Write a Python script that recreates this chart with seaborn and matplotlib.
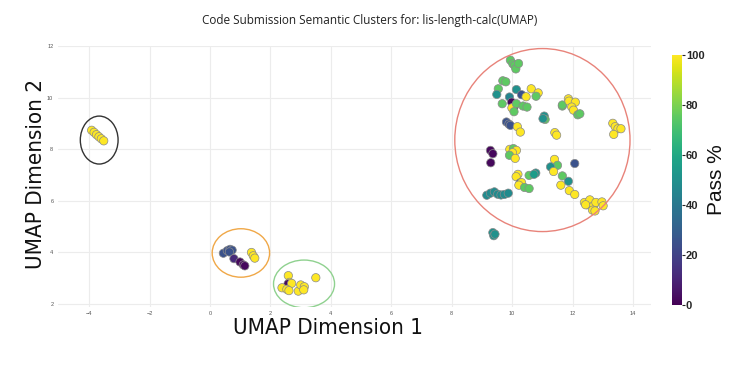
import numpy as np
import pandas as pd
import matplotlib
matplotlib.use("Agg")
import matplotlib.pyplot as plt
import seaborn as sns
from matplotlib.patches import Ellipse

# ---------------------------------------------
# Data (UMAP coords + pass %)
# ---------------------------------------------
umap_x = [
    # far-left cluster
    -3.92, -3.84, -3.76, -3.68, -3.60, -3.52,
    # orange cluster
    0.44, 0.57, 0.66, 0.73, 0.64, 0.79, 0.99, 1.10, 1.15, 1.37, 1.43, 1.48,
    # green cluster
    2.59, 2.63, 2.58, 2.70, 2.38, 2.54, 2.61, 2.92, 3.00, 3.12, 3.10, 3.50,
    # big cluster - top
    9.94, 10.02, 10.08, 10.12, 10.21, 9.69, 9.79, 9.54, 9.49, 9.67, 9.91, 10.14,
    10.31, 9.98, 10.06, 9.99, 10.14, 10.06, 10.36, 10.49, 10.46, 10.63, 10.86, 10.79,
    11.06, 11.09, 11.02, 9.81, 9.89, 9.94, 10.17, 10.27, 11.41, 11.47, 11.66, 11.66,
    11.86, 11.88, 12.09, 11.97, 12.03, 12.17, 12.24, 13.33, 13.41, 13.50, 13.60, 13.36,
    # big cluster - middle
    9.28, 9.36, 9.29, 9.92, 10.04, 10.14, 10.01, 9.91, 10.10, 11.40, 11.50, 11.27,
    11.37, 12.07, 11.66, 11.86, 11.61, 11.89, 12.07, 10.19, 10.13, 10.56, 10.78, 10.72,
    10.26, 10.31, 10.22, 10.41, 10.56,
    # teal line
    9.16, 9.28, 9.41, 9.52, 9.63, 9.74, 9.87,
    # bottom-right yellow group
    12.39, 12.48, 12.57, 12.69, 12.77, 12.66, 12.74, 12.97, 13.01, 12.43,
    # teal group below
    9.36, 9.39, 9.43,
]
umap_y = [
    8.74, 8.66, 8.57, 8.49, 8.41, 8.33,
    3.97, 4.07, 4.12, 4.09, 4.02, 3.76, 3.63, 3.52, 3.48, 4.00, 3.87, 3.78,
    3.10, 2.84, 2.78, 2.80, 2.63, 2.57, 2.52, 2.50, 2.74, 2.67, 2.55, 3.02,
    11.46, 11.32, 11.26, 11.12, 11.33, 10.66, 10.62, 10.35, 10.13, 9.77, 10.03, 10.32,
    10.12, 9.83, 9.64, 9.61, 9.77, 9.46, 9.68, 9.64, 10.04, 10.35, 10.19, 10.06,
    9.29, 9.16, 9.19, 9.06, 8.98, 8.93, 8.88, 8.67, 8.65, 8.55, 9.68, 9.72,
    9.96, 9.87, 9.83, 9.64, 9.52, 9.34, 9.38, 9.01, 8.88, 8.80, 8.80, 8.58,
    7.96, 7.83, 7.48, 8.00, 8.03, 7.96, 7.87, 7.77, 7.65, 7.61, 7.38, 7.32,
    7.14, 7.45, 6.97, 6.76, 6.61, 6.40, 6.25, 7.03, 6.94, 6.99, 7.08, 7.03,
    6.70, 6.71, 6.61, 6.52, 6.48,
    6.22, 6.30, 6.35, 6.26, 6.23, 6.25, 6.30,
    5.94, 5.85, 6.04, 5.81, 5.94, 5.64, 5.61, 5.96, 5.81, 5.85,
    4.77, 4.65, 4.71,
]
pass_pct = [
    100, 100, 100, 100, 100, 100,
    25, 25, 25, 25, 25, 12, 2, 2, 2, 100, 100, 100,
    100, 100, 3, 100, 100, 100, 100, 100, 100, 100, 100, 100,
    75, 75, 75, 75, 75, 75, 75, 75, 50, 75, 45, 50,
    25, 2, 2, 100, 75, 75, 75, 75, 100, 100, 100, 75,
    50, 75, 50, 25, 25, 25, 100, 100, 100, 100, 75, 75,
    100, 100, 100, 100, 100, 75, 75, 100, 100, 100, 100, 100,
    2, 2, 2, 100, 75, 100, 100, 75, 100, 100, 75, 50,
    100, 25, 75, 50, 100, 100, 100, 100, 100, 75, 50, 55,
    25, 100, 100, 75, 75,
    48, 48, 48, 48, 48, 48, 48,
    100, 100, 100, 100, 100, 100, 100, 100, 100, 100,
    50, 50, 50,
]

df = pd.DataFrame({'UMAP_1': umap_x, 'UMAP_2': umap_y, 'Pass': pass_pct})

# ---------------------------------------------
# Plot
# ---------------------------------------------
sns.set_style("whitegrid", {'grid.color': '#ececec', 'axes.edgecolor': 'white'})
plt.rcParams['font.family'] = ['Liberation Sans', 'DejaVu Sans']

fig = plt.figure(figsize=(7.43, 3.84), dpi=100)
ax = fig.add_axes([0.0774, 0.2016, 0.799, 0.678])

sns.scatterplot(data=df, x='UMAP_1', y='UMAP_2', hue='Pass', palette='viridis',
                hue_norm=(0, 100), s=36, edgecolor='#8a8a8a', linewidth=0.5,
                legend=False, ax=ax)

# hand-drawn cluster circles
circles = [((-3.67, 8.36), 1.25, 1.86, '#333333'),
           ((1.02, 3.98), 1.9, 1.88, '#f0a848'),
           ((3.11, 2.78), 2.02, 1.85, '#8fd18f'),
           ((11.0, 8.36), 5.8, 7.1, '#e8837a')]
for center, w, h, col in circles:
    ax.add_patch(Ellipse(center, w, h, fill=False, edgecolor=col, linewidth=1.0))

ax.set_xlim(-5.05, 14.6)
ax.set_ylim(1.9, 12.0)
ax.set_xticks(range(-4, 15, 2))
ax.set_yticks(range(2, 13, 2))
ax.tick_params(labelsize=4, colors='#555555', length=0, pad=3)
for s in ax.spines.values():
    s.set_visible(False)

label_font = dict(fontsize=16, family='DejaVu Sans', fontstretch='condensed',
                  color='#111111')
ax.set_xlabel('UMAP Dimension 1', **label_font)
ax.set_ylabel('UMAP Dimension 2', **label_font)
ax.xaxis.set_label_coords(0.455, -0.045)
ax.yaxis.set_label_coords(-0.019, 0.51)

fig.text(0.498, 0.947, 'Code Submission Semantic Clusters for: lis-length-calc(UMAP)',
         ha='center', va='center', fontsize=8.5, family=['Open Sans', 'DejaVu Sans'],
         color='#222222')

# colorbar
cax = fig.add_axes([0.904, 0.206, 0.0135, 0.651])
sm = plt.cm.ScalarMappable(cmap='viridis', norm=plt.Normalize(0, 100))
cb = fig.colorbar(sm, cax=cax)
cb.outline.set_visible(False)
cb.set_ticks([0, 20, 40, 60, 80, 100])
cax.tick_params(labelsize=8, length=2, pad=1)
for t in cax.get_yticklabels():
    t.set_fontweight('bold')
cb.set_label('Pass %', fontsize=15, labelpad=2, color='#111111')

plt.savefig('out.png', dpi=100)
